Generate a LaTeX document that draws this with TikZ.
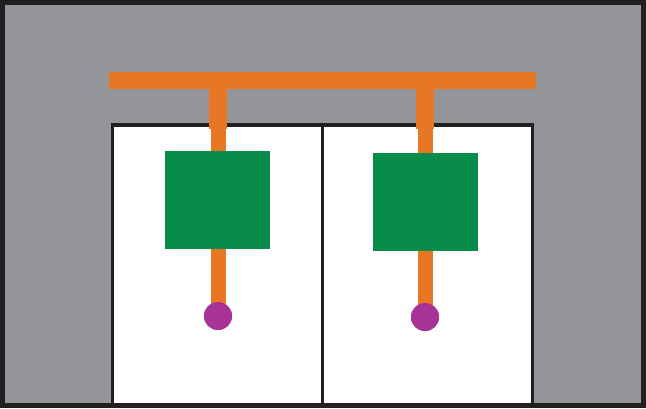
\documentclass[tikz,border=0pt]{standalone}
\usetikzlibrary{positioning}
\definecolor{bggray}{RGB}{147,149,152}
\definecolor{frameblack}{RGB}{35,31,32}
\definecolor{rodorange}{RGB}{232,119,37}
\definecolor{boxgreen}{RGB}{8,140,74}
\definecolor{ballpurple}{RGB}{168,51,151}
\begin{document}
\begin{tikzpicture}[x=1pt,y=-1pt,
  cell/.style={fill=white,draw=frameblack,line width=3.5pt},
  block/.style={fill=boxgreen,draw=none,minimum width=105pt,minimum height=98pt,inner sep=0pt,outer sep=0pt},
  ball/.style={circle,fill=ballpurple,draw=none,minimum size=28pt,inner sep=0pt,outer sep=0pt},
  rod/.style={draw=rodorange,line width=15pt},
  thickrod/.style={draw=rodorange,line width=18pt},
  bar/.style={fill=rodorange,draw=none,inner sep=0pt,outer sep=0pt}]
\useasboundingbox (0,0) rectangle (646,408);
\clip (0,0) rectangle (646,408);
% background
\fill[bggray] (0,0) rectangle (646,408);
% cells
\draw[cell] (112.5,125) rectangle (322.5,405);
\draw[cell] (322.5,125) rectangle (532.5,405);
% top bar
\node[bar,minimum width=427pt,minimum height=17pt] (topbar) at (322.5,80.5) {};
% blocks
\node[block] (g1) at (217.5,200) {};
\node[block] (g2) at (425.5,201.5) {};
% balls
\node[ball] (b1) at (218,316) {};
\node[ball] (b2) at (425,317) {};
% junction coordinates
\coordinate (j1) at (218,129);
\coordinate (j2) at (425,129);
% rods
\draw[thickrod] (topbar.south -| j1) -- (j1);
\draw[thickrod] (topbar.south -| j2) -- (j2);
\draw[rod] (j1) -- (j1 |- g1.north);
\draw[rod] (j2) -- (j2 |- g2.north);
\draw[rod] (g1.south -| b1) -- (b1.center);
\draw[rod] (g2.south -| b2) -- (b2.center);
\node[ball] at (b1) {};
\node[ball] at (b2) {};
% outer frame
\draw[frameblack,line width=5pt] (2.5,2.5) rectangle (643.5,405.5);
\end{tikzpicture}
\end{document}
